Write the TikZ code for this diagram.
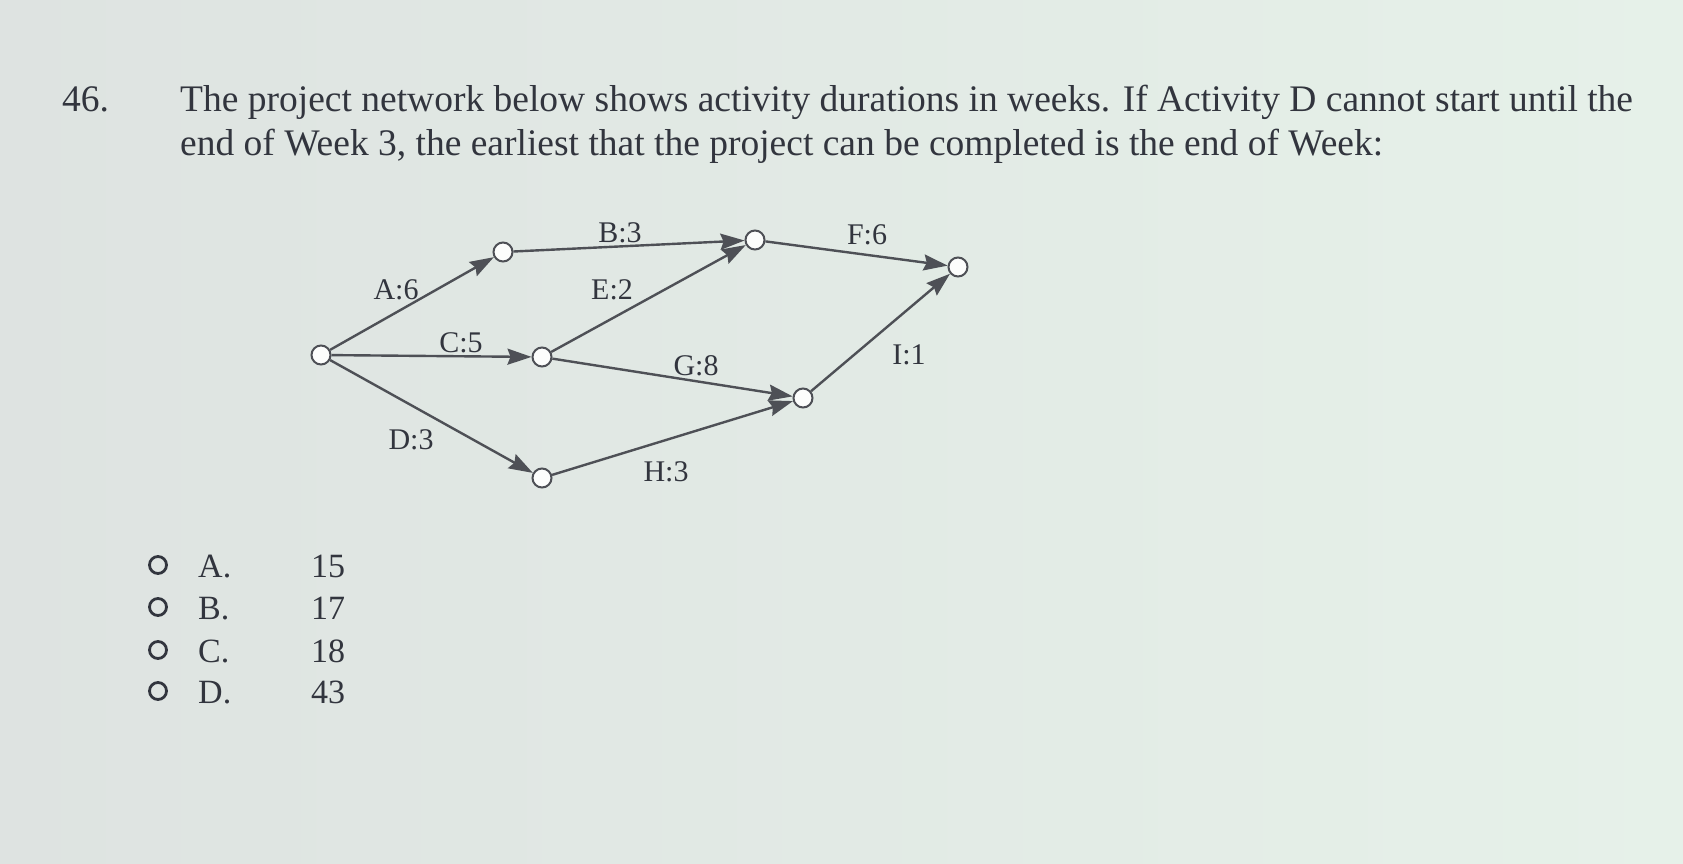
\documentclass[tikz,border=0pt]{standalone}
\usepackage{fontspec}
\setmainfont{Liberation Serif}
\usetikzlibrary{arrows.meta}
\definecolor{bgL}{RGB}{222,227,225}
\definecolor{bgR}{RGB}{230,241,233}
\definecolor{ink}{RGB}{50,53,62}
\definecolor{edgec}{RGB}{78,80,86}
\tikzset{
  evt/.style={circle, draw=edgec, line width=2pt, fill=white!88!bgR, minimum size=19pt, inner sep=0pt},
  act/.style={draw=edgec, line width=2.4pt, -{Stealth[length=24pt,width=16pt,inset=3pt]}},
  lbl/.style={text=ink, font=\fontsize{30}{33}\selectfont, inner sep=0pt},
  qtext/.style={text=ink, font=\fontsize{37.5}{44}\selectfont, anchor=base west, inner sep=0pt},
  opt/.style={text=ink, font=\fontsize{34}{38}\selectfont, anchor=base west, inner sep=0pt},
  radio/.style={circle, draw=ink, line width=2.8pt, minimum size=17pt, inner sep=0pt}
}
\begin{document}
\begin{tikzpicture}[x=1pt,y=-1pt]
\shade[left color=bgL, right color=bgR] (0,0) rectangle (1683,864);
\useasboundingbox (0,0) rectangle (1683,864);
% question
\node[qtext] (num) at (62,112) {46.};
\node[qtext] (q1) at (180,112) {The project network below shows activity durations in weeks. If Activity D cannot start until the};
\node[qtext] (q2) at (180,155) {end of Week 3, the earliest that the project can be completed is the end of Week:};
% network
\node[evt] (s) at (321,355) {};
\node[evt] (n2) at (503,252) {};
\node[evt] (n3) at (542,357) {};
\node[evt] (n4) at (755,240) {};
\node[evt] (n5) at (542,478) {};
\node[evt] (n6) at (803,398) {};
\node[evt] (n7) at (958,267) {};
\draw[act] (s) -- (n2);
\draw[act] (n2) -- (n4);
\draw[act] (s) -- (n3);
\draw[act] (s) -- (n5);
\draw[act] (n3) -- (n4);
\draw[act] (n4) -- (n7);
\draw[act] (n3) -- (n6);
\draw[act] (n5) -- (n6);
\draw[act] (n6) -- (n7);
\node[lbl] (lB) at (620,233) {B:3};
\node[lbl] (lA) at (396,290) {A:6};
\node[lbl] (lE) at (612,290) {E:2};
\node[lbl] (lF) at (867,235) {F:6};
\node[lbl] (lC) at (461,343) {C:5};
\node[lbl] (lG) at (696,366) {G:8};
\node[lbl] (lI) at (909,355) {I:1};
\node[lbl] (lD) at (411,440) {D:3};
\node[lbl] (lH) at (666,472) {H:3};
% options
\node[radio] (r1) at (158,565) {};
\node[radio] (r2) at (158,607) {};
\node[radio] (r3) at (158,650) {};
\node[radio] (r4) at (158,691) {};
\node[opt] (oA) at (198,577) {A.};
\node[opt] (oB) at (198,619) {B.};
\node[opt] (oC) at (198,662) {C.};
\node[opt] (oD) at (198,703) {D.};
\node[opt] (vA) at (311,577) {15};
\node[opt] (vB) at (311,619) {17};
\node[opt] (vC) at (311,662) {18};
\node[opt] (vD) at (311,703) {43};
\end{tikzpicture}
\end{document}
